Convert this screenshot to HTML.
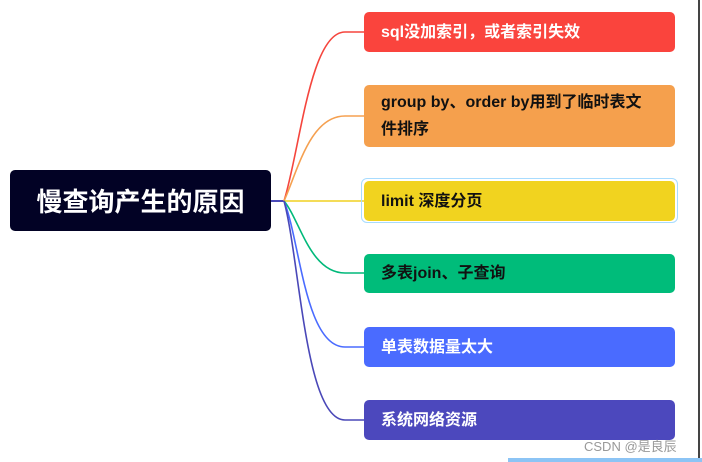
<!DOCTYPE html>
<html><head><meta charset="utf-8"><style>
body{margin:0;width:702px;height:462px;background:#fff;position:relative;overflow:hidden;font-family:"Liberation Sans","Noto Sans CJK SC",sans-serif;}
.n{position:absolute;left:364px;width:311px;border-radius:5px;box-sizing:border-box;padding:0 16px 0 17px;font-size:16px;font-weight:bold;display:flex;align-items:center;line-height:27px;}
.root{position:absolute;left:10px;top:170px;width:261px;height:61px;background:#020225;border-radius:5px;color:#fff;font-size:26px;font-weight:bold;display:flex;align-items:center;justify-content:center;}
</style></head><body>
<svg width="702" height="462" style="position:absolute;left:0;top:0" fill="none" stroke-width="1.6">
<line x1="270" y1="201" x2="284" y2="201" stroke="#4a4ab8" stroke-width="2"/>
<path d="M284 201 C300 150,310 32,345 32 L364 32" stroke="#f5453d"/>
<path d="M284 201 C298 170,310 116,345 116 L364 116" stroke="#f5a050"/>
<path d="M284 201 L364 201" stroke="#f0d020"/>
<path d="M284 201 C300 220,310 273,345 273 L364 273" stroke="#00b97a"/>
<path d="M284 201 C300 240,305 347,345 347 L364 347" stroke="#4a6bff"/>
<path d="M284 201 C300 260,305 420,345 420 L364 420" stroke="#4a48b8"/>
<line x1="699" y1="0" x2="699" y2="462" stroke="#444" stroke-width="2"/>
</svg>
<div class="root">慢查询产生的原因</div>
<div class="n" style="top:12px;height:40px;background:#fa443d;color:#fff">sql没加索引，或者索引失效</div>
<div class="n" style="top:85px;height:62px;background:#f5a04d;color:#111;padding-right:30px">group by、order by用到了临时表文件排序</div>
<div style="position:absolute;left:361px;top:178px;width:317px;height:45px;border:1.5px solid #a8dcff;border-radius:6px;box-sizing:border-box"></div>
<div class="n" style="top:181px;height:40px;background:#f1d31f;color:#111">limit 深度分页</div>
<div class="n" style="top:254px;height:39px;background:#00bc7a;color:#111">多表join、子查询</div>
<div class="n" style="top:327px;height:40px;background:#4a6bff;color:#fff">单表数据量太大</div>
<div class="n" style="top:400px;height:40px;background:#4c48bd;color:#fff">系统网络资源</div>
<div style="position:absolute;left:584px;top:436px;font-size:13px;color:#999">CSDN @是良辰</div>
<div style="position:absolute;left:508px;top:458px;width:194px;height:4px;background:#8cc4f5"></div>
</body></html>
